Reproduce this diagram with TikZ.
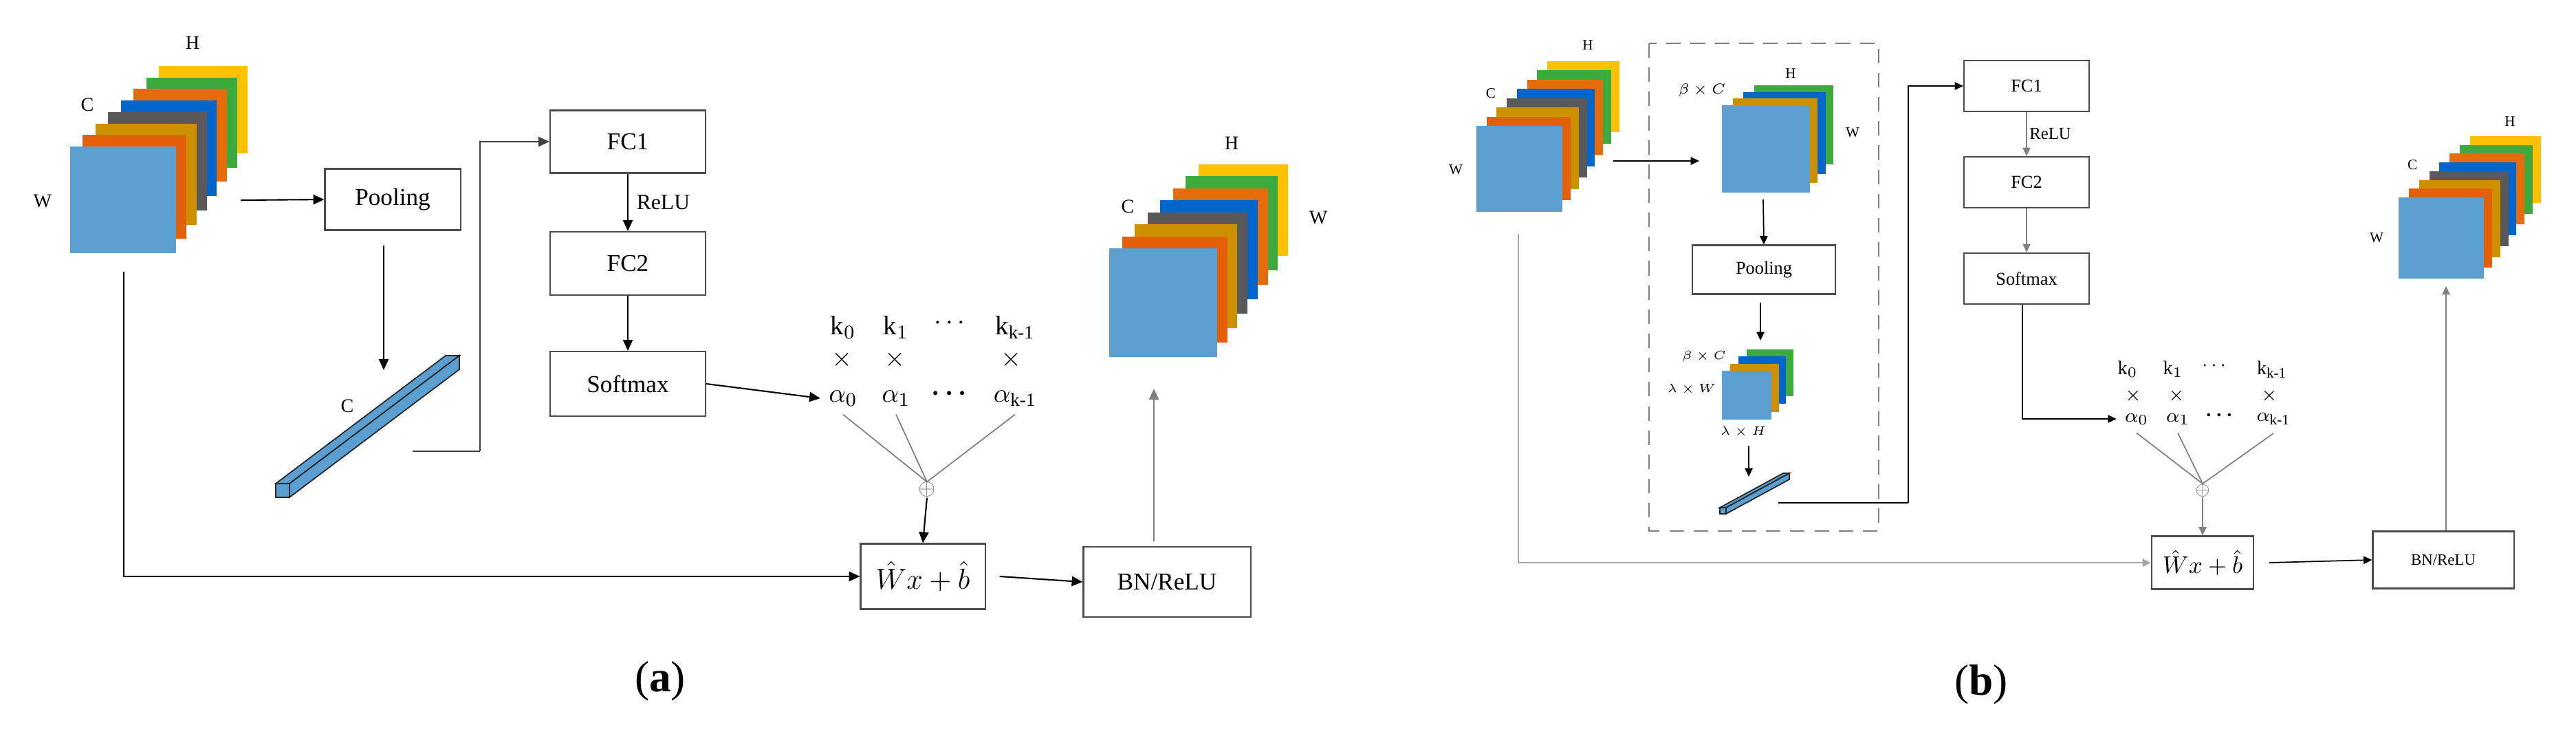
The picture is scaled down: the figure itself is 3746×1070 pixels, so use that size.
\documentclass[tikz,border=0pt]{standalone}
\usepackage{amsmath}
\usepackage{fontspec}
\setmainfont{Liberation Serif}
\usetikzlibrary{arrows.meta,calc}
\definecolor{c1}{HTML}{5B9FD0}
\definecolor{c2}{HTML}{E36009}
\definecolor{c3}{HTML}{CC9000}
\definecolor{c4}{HTML}{595959}
\definecolor{c5}{HTML}{0066CC}
\definecolor{c6}{HTML}{E46C0A}
\definecolor{c7}{HTML}{3DAA3D}
\definecolor{c8}{HTML}{FFC000}
\definecolor{ln}{HTML}{808080}
\newcommand\mystack[9]{%
  \foreach \cc [count=\i] in {#9} {\xdef\nn{\i}}%
  \foreach \cc [count=\i] in {#9} {%
    \pgfmathsetmacro\t{(\nn-\i)/(\nn-1)}%
    \fill[\cc] ({#1+(#5-#1)*\t},{#2+(#6-#2)*\t}) rectangle ({#3+(#7-#3)*\t},{#4+(#8-#4)*\t});
  }}
\newcommand\mybar[5]{% x y size vx vy  (end face top-left x,y)
  \filldraw[c1,draw=black!85,line width=0.5pt] (#1,#2) -- ++(#3,0) -- ++(#4,#5) -- ++(-#3,0) -- cycle;
  \filldraw[c1,draw=black!85,line width=0.5pt] (#1+#3,#2) -- ++(0,#3) -- ++(#4,#5) -- ++(0,-#3) -- cycle;
  \filldraw[c1,draw=black!85,line width=0.5pt] (#1,#2) rectangle ++(#3,#3);}
\tikzset{
  box/.style={draw=black!70,line width=0.6pt,inner sep=0pt},
  ba/.style={box,font=\fontsize{10}{12}\selectfont},
  bb/.style={box,font=\fontsize{7.5}{9}\selectfont},
  arr/.style={-{Triangle[length=4.5pt,width=4pt]},line width=0.6pt,black},
  arrb/.style={-{Triangle[length=3.5pt,width=3.2pt]},line width=0.5pt,black},
  gl/.style={ln,line width=0.5pt},
  lab/.style={font=\fontsize{8}{9}\selectfont},
  labb/.style={font=\fontsize{6}{7}\selectfont},
}
\begin{document}
\begin{tikzpicture}[x=0.01cm,y=-0.01cm]
\useasboundingbox (0,0) rectangle (3746,1070);
% ---------- panel (a)
\mystack{102}{213}{256}{368}{231}{96}{360}{223}{c8,c7,c6,c5,c4,c3,c2,c1}
\node[lab] (ha) at (280,62) {H};
\node[lab] (ca) at (127,152) {C};
\node[lab] (wa) at (62,293) {W};
\coordinate (sa) at (350,291);
\node[ba,minimum width=1.97cm,minimum height=0.89cm] (pool) at (571,290) {Pooling};
\draw[arr] (sa) -- (pool.west);
\coordinate (pa) at (558,357);
\coordinate (pb) at (558,538);
\draw[arr] (pa) -- (pb);
\mybar{401}{703}{20}{247}{-186}
\node[lab] (cb) at (505,590) {C};
\node[ba,minimum width=2.26cm,minimum height=0.91cm] (fc1) at (913,206) {FC1};
\node[ba,minimum width=2.26cm,minimum height=0.92cm] (fc2) at (913,383) {FC2};
\node[ba,minimum width=2.26cm,minimum height=0.94cm] (soft) at (913,558) {Softmax};
\coordinate (ba) at (600,656);
\coordinate (bc) at (698,656);
\draw[line width=0.6pt,black!75] (ba) -- (bc);
\draw[arr,draw=black!75] (bc) |- (fc1.west);
\draw[arr] (fc1) -- node[right,font=\fontsize{9}{10}\selectfont]{ReLU} (fc2);
\draw[arr] (fc2) -- (soft);
\begin{scope}[font=\fontsize{11}{12}\selectfont]
\node (k0) at (1226,476) {k$_0$};
\node (k1) at (1303,476) {k$_1$};
\node (kd) at (1384,470) {$\cdots$};
\node (kk) at (1476,476) {k$_{\mathrm{k\text{-}1}}$};
\node (x0) at (1224,523) {$\times$};
\node (x1) at (1301,523) {$\times$};
\node (xk) at (1470,523) {$\times$};
\node (a0) at (1226,579) {$\alpha_0$};
\node (a1) at (1303,579) {$\alpha_1$};
\node (ad) at (1384,572) {$\boldsymbol\cdots$};
\node (ak) at (1476,579) {$\alpha_{\mathrm{k\text{-}1}}$};
\end{scope}
\node[text=ln,inner sep=0pt,font=\fontsize{9}{9}\selectfont] (sum) at (1348,712) {$\oplus$};
\draw[arr] (soft.east) -- (a0.west);
\draw[gl] (a0.south) -- (sum.north);
\draw[gl] (a1.south) -- (sum.north);
\draw[gl] (ak.south) -- (sum.north);
\node[ba,font=\fontsize{13}{14}\selectfont,minimum width=1.81cm,minimum height=0.95cm] (wx) at (1342,838) {$\hat{W}x+\hat{b}$};
\draw[arr] (sum.south) -- (wx.north);
\coordinate (sk) at (180,395);
\draw[arr] (sk) |- (wx.west);
\node[ba,minimum width=2.43cm,minimum height=1.02cm] (bn) at (1697,846) {BN/ReLU};
\draw[arr] (wx.east) ++(20,0) coordinate (we) -- (bn.west);
\mystack{1613}{361}{1770}{519}{1743}{239}{1873}{372}{c8,c7,c6,c5,c4,c3,c2,c1}
\coordinate (oa) at (1678,787);
\coordinate (ob) at (1678,565);
\draw[arr,draw=ln] (oa) -- (ob);
\node[lab] (ho) at (1791,208) {H};
\node[lab] (co) at (1640,300) {C};
\node[lab] (wo) at (1917,317) {W};
\node[font=\fontsize{18}{20}\selectfont] (la) at (960,990) {(\textbf{a})};
% ---------- panel (b)
\mystack{2147}{183}{2272}{308}{2250}{89}{2355}{192}{c8,c7,c6,c5,c4,c3,c2,c1}
\node[labb] (hb) at (2309,66) {H};
\node[labb] (cb2) at (2168,136) {C};
\node[labb] (wb) at (2117,247) {W};
\draw[ln,line width=0.8pt,dash pattern=on 6pt off 4pt] (2398,63) rectangle (2732,772);
\coordinate (sb) at (2346,234);
\coordinate (sb2) at (2471,234);
\draw[arrb] (sb) -- (sb2);
\mystack{2504}{153}{2632}{280}{2551}{124}{2666}{239}{c7,c5,c3,c1}
\node[labb] (bc1) at (2475,131) {$\beta\times C$};
\node[labb] (bh1) at (2604,107) {H};
\node[labb] (bw1) at (2694,193) {W};
\node[bb,minimum width=2.08cm,minimum height=0.71cm] (pool2) at (2565,392) {Pooling};
\coordinate (qa) at (2564,290);
\draw[arrb] (qa) -- (pool2.north);
\coordinate (qb) at (2560,440);
\coordinate (qc) at (2560,495);
\draw[arrb] (qb) -- (qc);
\mystack{2504}{539}{2576}{610}{2540}{508}{2608}{576}{c7,c5,c3,c1}
\node[font=\fontsize{5}{6}\selectfont] (bc2) at (2478,518) {$\beta\times C$};
\node[font=\fontsize{5}{6}\selectfont] (lw) at (2460,566) {$\lambda\times W$};
\node[font=\fontsize{5}{6}\selectfont] (lh) at (2535,628) {$\lambda\times H$};
\coordinate (qd) at (2543,648);
\coordinate (qe) at (2543,693);
\draw[arrb] (qd) -- (qe);
\mybar{2501}{738}{9}{92}{-50}
\node[bb,minimum width=1.82cm,minimum height=0.74cm] (fc1b) at (2947,125) {FC1};
\node[bb,minimum width=1.82cm,minimum height=0.74cm] (fc2b) at (2947,265) {FC2};
\node[bb,minimum width=1.82cm,minimum height=0.74cm] (softb) at (2947,405) {Softmax};
\coordinate (bb1) at (2586,731);
\coordinate (bb2) at (2775,731);
\draw[line width=0.5pt] (bb1) -- (bb2);
\draw[arrb] (bb2) |- (fc1b.west);
\draw[arrb,draw=ln] (fc1b) -- node[right,font=\fontsize{7}{8}\selectfont,inner sep=1pt]{ReLU} (fc2b);
\draw[arrb,draw=ln] (fc2b) -- (softb);
\begin{scope}[font=\fontsize{8}{9}\selectfont]
\node (bk0) at (3094,537) {k$_0$};
\node (bk1) at (3160,537) {k$_1$};
\node (bkd) at (3222,532) {$\cdots$};
\node (bkk) at (3304,537) {k$_{\mathrm{k\text{-}1}}$};
\node (bx0) at (3102,575) {$\times$};
\node (bx1) at (3165,575) {$\times$};
\node (bxk) at (3300,575) {$\times$};
\node (b0) at (3107,609) {$\alpha_0$};
\node (b1) at (3167,609) {$\alpha_1$};
\node (bd) at (3230,604) {$\boldsymbol\cdots$};
\node (bk) at (3306,609) {$\alpha_{\mathrm{k\text{-}1}}$};
\end{scope}
\node[text=ln,inner sep=0pt,font=\fontsize{7}{7}\selectfont] (sumb) at (3203,713) {$\oplus$};
\draw[arrb] ([xshift=-0.06cm]softb.south) |- (b0.west);
\draw[gl] (b0.south) -- (sumb.north);
\draw[gl] (b1.south) -- (sumb.north);
\draw[gl] (bk.south) -- (sumb.north);
\node[bb,font=\fontsize{10}{11}\selectfont,minimum width=1.48cm,minimum height=0.77cm] (wxb) at (3203,818) {$\hat{W}x+\hat{b}$};
\draw[arrb,draw=ln] (sumb.south) -- (wxb.north);
\coordinate (skb) at (2208,340);
\draw[arrb,draw=ln!70,line width=0.8pt] (skb) |- (wxb.west);
\node[bb,font=\fontsize{6.5}{8}\selectfont,minimum width=2.05cm,minimum height=0.83cm] (bnb) at (3553,814) {BN/ReLU};
\draw[arrb] (wxb.east) ++(22,0) coordinate (wbe) -- (bnb.west);
\mystack{3488}{287}{3612}{405}{3592}{198}{3695}{295}{c8,c7,c6,c5,c4,c3,c2,c1}
\coordinate (ub) at (3557,416);
\draw[arrb,draw=ln] (bnb.north -| ub) -- (ub);
\node[labb] (hob) at (3650,177) {H};
\node[labb] (cob) at (3508,240) {C};
\node[labb] (wob) at (3456,346) {W};
\node[font=\fontsize{18}{20}\selectfont] (lb) at (2881,995) {(\textbf{b})};
\end{tikzpicture}
\end{document}
